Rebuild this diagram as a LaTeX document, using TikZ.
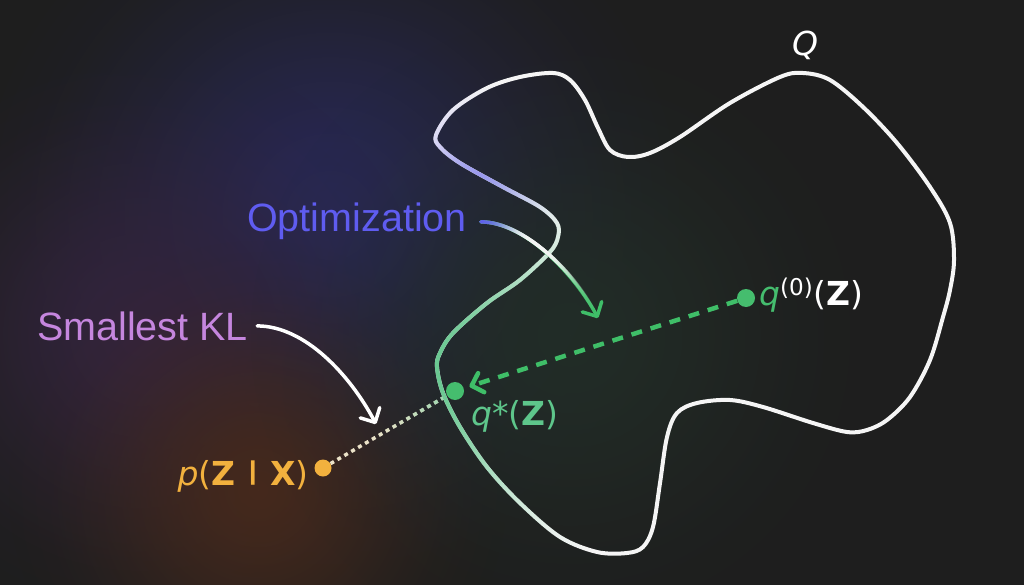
\documentclass[tikz,border=0pt]{standalone}
\usepackage{fontspec}
\setmainfont{Liberation Sans}
\newfontfamily\dvs{DejaVu Sans}
\usetikzlibrary{arrows.meta,fadings}
\definecolor{bg}{HTML}{1E1E1E}
\definecolor{blueglow}{HTML}{292958}
\definecolor{purpleglow}{HTML}{33243D}
\definecolor{orangeglow}{HTML}{45291C}
\definecolor{greenglow}{HTML}{222D27}
\definecolor{optcol}{HTML}{5F5CF0}
\definecolor{klcol}{HTML}{C586DE}
\definecolor{pcol}{HTML}{F2B13E}
\definecolor{gdot}{HTML}{45BD6E}
\definecolor{gdash}{HTML}{3FBE68}
\definecolor{gtext}{HTML}{5EC68B}
\definecolor{gline}{HTML}{62C68C}
\definecolor{lav}{HTML}{9D96F4}
\definecolor{linewhite}{HTML}{F5F5F5}
\definecolor{dotcream}{HTML}{EBE2C8}
\definecolor{dotgreen}{HTML}{9AD6AF}
\pgfdeclareradialshading{glowshade}{\pgfpointorigin}{rgb(0bp)=(1,1,1); rgb(5bp)=(0.85,0.85,0.85); rgb(10bp)=(0.6,0.6,0.6); rgb(15bp)=(0.32,0.32,0.32); rgb(20bp)=(0.1,0.1,0.1); rgb(25bp)=(0,0,0); rgb(50bp)=(0,0,0)}
\pgfdeclarefading{glow}{\pgfuseshading{glowshade}}
\pgfdeclarelayer{back}
\pgfsetlayers{back,main}
\newcommand\blobpath{plot[smooth cycle, tension=0.55] coordinates {(436,135) (453,110) (487,88) (520,77) (553,73) (570,80) (585,100) (598,128) (610,150) (628,157) (650,153) (680,137) (730,103) (780,77) (803,73) (830,80) (863,107) (897,143) (930,187) (950,223) (954,260) (950,290) (943,317) (930,360) (910,397) (887,420) (867,430) (847,432) (813,423) (763,407) (730,400) (697,403) (677,413) (667,437) (660,483) (653,527) (643,547) (627,553) (597,552) (560,537) (520,503) (487,467) (460,427) (443,393) (437,367) (440,353) (453,333) (487,303) (520,280) (550,252) (558,237) (557,223) (540,207) (503,187) (460,163) (440,147)}}
\newcommand\optcurve{(opt.east) .. controls (525,222) and (575,275) .. (optend)}
\newcommand\shortbar{\raisebox{0.17em}{\scalebox{1}[0.74]{|}}}
\begin{document}
\begin{tikzpicture}[x=1pt,y=-1pt,
  lbl/.style={inner sep=0pt, font=\fontsize{39.5}{42}\selectfont},
  mth/.style={inner sep=0pt, font=\dvs\fontsize{33}{36}\selectfont},
  dot/.style={circle, inner sep=0pt, minimum size=18pt},
  outline/.style={line width=4pt, line join=round},
  barb/.style={-{Straight Barb[length=11pt,width=22pt,line cap=round,line join=round]}},
  arr/.style={line width=3.5pt, line cap=round},
]
\useasboundingbox (0,0) rectangle (1024,585);
% labels and dots
\node[lbl, optcol, anchor=base west] (opt) at (247,232) {Optimization};
\node[lbl, klcol, anchor=base west] (kl) at (37,340) {Smallest KL};
\node[mth, white, anchor=base] (Q) at (805,56) {\itshape Q};
\node[dot, fill=gdot] (q0) at (746,298) {};
\node[dot, fill=gdot] (qs) at (455,391) {};
\node[dot, fill=pcol, minimum size=17pt] (pd) at (323,468) {};
\node[mth, white, anchor=base west] (q0lab) at (759,305) {{\color{gdot}\itshape q}\textsuperscript{(0)}(\textbf{Z})};
\node[mth, gtext, anchor=base west] (qslab) at (471,425) {{\itshape q}*(\textbf{Z})};
\node[mth, pcol, anchor=base east] (plab) at (309,485) {{\itshape p}(\textbf{Z \shortbar{} X})};
\coordinate (klend) at (376,424);
\coordinate (optend) at (598,318);
% background, glows, outline
\begin{pgfonlayer}{back}
\fill[bg] (0,0) rectangle (1024,585);
\fill[blueglow, path fading=glow] (330,215) circle[radius=360];
\fill[purpleglow, path fading=glow] (140,335) circle[radius=290];
\fill[orangeglow, path fading=glow] (258,490) circle[radius=250];
\fill[greenglow, path fading=glow] (570,335) circle[radius=320];
\draw[dotcream, line width=3.5pt, dash pattern=on 4pt off 4pt] (pd) -- (qs);
\draw[dotgreen, line width=3.5pt, dash pattern=on 4pt off 4pt, path fading=glow, fit fading=false, fading transform={shift={(455,391)}, scale=4}] (pd) -- (qs);
\draw[outline, linewhite] \blobpath;
\draw[outline, lav, path fading=glow, fit fading=false, fading transform={shift={(480,176)}, scale=3.8}] \blobpath;
\draw[outline, gline, path fading=glow, fit fading=false, fading transform={shift={(455,370)}, scale=9}] \blobpath;
\end{pgfonlayer}
% connectors
\draw[arr, white, barb, shorten <=9pt] (kl.east) .. controls (305,326) and (350,375) .. (klend);
\draw[arr, gdash, barb, shorten <=14pt] \optcurve;
\draw[arr, linewhite, shorten <=14pt, shorten >=12pt, path fading=glow, fit fading=false, fading transform={shift={(538,243)}, scale=3.6}] \optcurve;
\draw[arr, linewhite, shorten <=14pt, shorten >=12pt, path fading=glow, fit fading=false, fading transform={shift={(538,243)}, scale=2.4}] \optcurve;
\draw[arr, optcol, shorten <=14pt, shorten >=12pt, path fading=glow, fit fading=false, fading transform={shift={(478,222)}, scale=2.0}] \optcurve;
\draw[gdash, line width=4.5pt, dash pattern=on 11pt off 9pt, -{Straight Barb[length=10pt,width=20pt,line cap=round,line join=round]}, shorten >=6pt] (q0) -- (qs);
\end{tikzpicture}
\end{document}
